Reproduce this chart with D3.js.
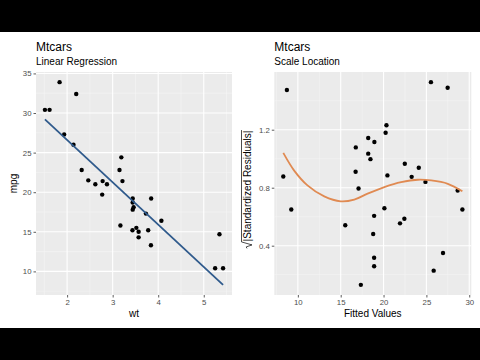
<!DOCTYPE html>
<html>
<head>
<meta charset="utf-8">
<script src="https://cdn.jsdelivr.net/npm/d3@7"></script>
<style>
  body { margin: 0; background: #000; }
  svg text { font-family: "Liberation Sans", Arial, sans-serif; }
</style>
</head>
<body>
<svg id="chart" width="480" height="360"></svg>
<script>
// mtcars: weight (1000 lbs) and miles per gallon
const wt = [2.620, 2.875, 2.320, 3.215, 3.440, 3.460, 3.570, 3.190, 3.150, 3.440, 3.440,
            4.070, 3.730, 3.780, 5.250, 5.424, 5.345, 2.200, 1.615, 1.835, 2.465, 3.520,
            3.435, 3.840, 3.845, 1.935, 2.140, 1.513, 3.170, 2.770, 3.570, 2.780];
const mpg = [21.0, 21.0, 22.8, 21.4, 18.7, 18.1, 14.3, 24.4, 22.8, 19.2, 17.8,
             16.4, 17.3, 15.2, 10.4, 10.4, 14.7, 32.4, 30.4, 33.9, 21.5, 15.5,
             15.2, 13.3, 19.2, 27.3, 26.0, 30.4, 15.8, 19.7, 15.0, 21.4];

// regression line endpoints (wt, fitted mpg)
const fitLineWt = [1.513, 5.424];
const fitLineMpg = [29.20, 8.30];

// scale-location: fitted values and sqrt(|standardized residuals|)
const fitted = [23.28, 21.92, 24.89, 20.10, 18.90, 18.79, 18.21, 20.24, 20.45, 18.90, 18.90,
                15.53, 17.35, 17.08, 9.23, 8.30, 8.72, 25.53, 28.65, 27.48, 24.11, 18.47,
                18.93, 16.76, 16.74, 26.94, 25.85, 29.20, 20.34, 22.48, 18.21, 22.43];
const sqrtStdRes = [0.875, 0.554, 0.840, 0.658, 0.258, 0.481, 1.143, 1.179, 0.885, 0.317, 0.606,
                    0.541, 0.130, 0.795, 0.650, 0.877, 1.474, 1.528, 0.781, 1.489, 0.938, 0.997,
                    1.115, 1.078, 0.910, 0.350, 0.228, 0.650, 1.231, 0.965, 1.035, 0.586];

// smoother
const smoothX = [8.30, 9.57, 11.12, 13.08, 15.0, 16.58, 18.14, 20.09, 22.05, 24.0, 25.56, 27.5, 29.2];
const smoothY = [1.04, 0.918, 0.816, 0.74, 0.706, 0.718, 0.759, 0.804, 0.838, 0.855, 0.85, 0.827, 0.775];

const svg = d3.select("#chart");
svg.append("rect").attr("width", 480).attr("height", 360).attr("fill", "#000");
svg.append("rect").attr("y", 32).attr("width", 480).attr("height", 296).attr("fill", "#fff");

function panel(opt) {
    const g = svg.append("g");
    const x = d3.scaleLinear().domain(opt.xDomain).range([opt.left, opt.right]);
    const y = d3.scaleLinear().domain(opt.yDomain).range([opt.bottom, opt.top]);

    g.append("rect")
        .attr("x", opt.left).attr("y", opt.top)
        .attr("width", opt.right - opt.left).attr("height", opt.bottom - opt.top)
        .attr("fill", "#EBEBEB");

    // minor grid
    g.selectAll(".xminor").data(opt.xMinor).enter().append("line")
        .attr("x1", d => x(d)).attr("x2", d => x(d))
        .attr("y1", opt.top).attr("y2", opt.bottom)
        .attr("stroke", "#F5F5F5").attr("stroke-width", 0.6);
    g.selectAll(".yminor").data(opt.yMinor).enter().append("line")
        .attr("y1", d => y(d)).attr("y2", d => y(d))
        .attr("x1", opt.left).attr("x2", opt.right)
        .attr("stroke", "#F5F5F5").attr("stroke-width", 0.6);
    // major grid
    g.selectAll(".xmajor").data(opt.xTicks).enter().append("line")
        .attr("x1", d => x(d)).attr("x2", d => x(d))
        .attr("y1", opt.top).attr("y2", opt.bottom)
        .attr("stroke", "#fff").attr("stroke-width", 1.1);
    g.selectAll(".ymajor").data(opt.yTicks).enter().append("line")
        .attr("y1", d => y(d)).attr("y2", d => y(d))
        .attr("x1", opt.left).attr("x2", opt.right)
        .attr("stroke", "#fff").attr("stroke-width", 1.1);

    // axes
    const xAxis = g.append("g")
        .attr("transform", "translate(0," + opt.bottom + ")")
        .call(d3.axisBottom(x).tickValues(opt.xTicks).tickFormat(opt.xFormat).tickSize(2.5).tickPadding(2));
    const yAxis = g.append("g")
        .attr("transform", "translate(" + opt.left + ",0)")
        .call(d3.axisLeft(y).tickValues(opt.yTicks).tickFormat(opt.yFormat).tickSize(2.5).tickPadding(2));
    [xAxis, yAxis].forEach(a => {
        a.select(".domain").remove();
        a.selectAll(".tick line").attr("stroke", "#333").attr("stroke-width", 0.8);
        a.selectAll(".tick text").attr("fill", "#4D4D4D").style("font-size", "7.8px")
            .style("font-family", "'Liberation Sans', Arial, sans-serif");
    });

    // titles
    g.append("text").attr("x", opt.left).attr("y", 50.5)
        .attr("fill", "#000").style("font-size", "12px").text(opt.title);
    g.append("text").attr("x", opt.left).attr("y", 64.5)
        .attr("fill", "#000").style("font-size", "10px").text(opt.subtitle);
    g.append("text").attr("x", (opt.left + opt.right) / 2).attr("y", 316.5)
        .attr("text-anchor", "middle").attr("fill", "#000").style("font-size", "10px")
        .text(opt.xLabel);

    return {g, x, y};
}

// ---- left: linear regression ----
const p1 = panel({
    left: 36, right: 232, top: 72, bottom: 295,
    xDomain: [1.317, 5.620], yDomain: [7.02, 35.18],
    xTicks: [2, 3, 4, 5], yTicks: [10, 15, 20, 25, 30, 35],
    xMinor: [1.5, 2.5, 3.5, 4.5, 5.5], yMinor: [7.5, 12.5, 17.5, 22.5, 27.5, 32.5],
    xFormat: d3.format("d"), yFormat: d3.format("d"),
    title: "Mtcars", subtitle: "Linear Regression", xLabel: "wt"
});
p1.g.append("text")
    .attr("transform", "translate(17," + (72 + 295) / 2 + ") rotate(-90)")
    .attr("text-anchor", "middle").attr("fill", "#000").style("font-size", "10px")
    .text("mpg");
p1.g.selectAll(".pt").data(d3.range(wt.length)).enter().append("circle")
    .attr("cx", i => p1.x(wt[i])).attr("cy", i => p1.y(mpg[i]))
    .attr("r", 2.2).attr("fill", "#000");
p1.g.append("path")
    .datum(d3.range(fitLineWt.length))
    .attr("d", d3.line().x(i => p1.x(fitLineWt[i])).y(i => p1.y(fitLineMpg[i])))
    .attr("fill", "none").attr("stroke", "#2F5A8C").attr("stroke-width", 1.8);

// ---- right: scale location ----
const p2 = panel({
    left: 274.3, right: 471.3, top: 72, bottom: 295,
    xDomain: [7.25, 30.24], yDomain: [0.060, 1.598],
    xTicks: [10, 15, 20, 25, 30], yTicks: [0.4, 0.8, 1.2],
    xMinor: [7.5, 12.5, 17.5, 22.5, 27.5], yMinor: [0.2, 0.6, 1.0, 1.4],
    xFormat: d3.format("d"), yFormat: d3.format(".1f"),
    title: "Mtcars", subtitle: "Scale Location", xLabel: "Fitted Values"
});

// y label with radical sign: drawn in a rotated frame
const yl = p2.g.append("g")
    .attr("transform", "translate(250.5,190) rotate(-90)");
const ylText = yl.append("text")
    .attr("x", 4).attr("text-anchor", "middle").attr("fill", "#000").style("font-size", "10px")
    .text("|Standardized Residuals|");
const tw = ylText.node().getComputedTextLength();
const x0 = 4 - tw / 2, x1 = 4 + tw / 2;
yl.append("path")
    .attr("d", "M" + (x0 - 7) + ",-3.5 L" + (x0 - 5.5) + ",-4.3 L" + (x0 - 3.5) + ",1.5 L" + (x0 - 0.5) + ",-9 L" + (x1 + 0.5) + ",-9")
    .attr("fill", "none").attr("stroke", "#000").attr("stroke-width", 0.7);

p2.g.selectAll(".pt").data(d3.range(fitted.length)).enter().append("circle")
    .attr("cx", i => p2.x(fitted[i])).attr("cy", i => p2.y(sqrtStdRes[i]))
    .attr("r", 2.2).attr("fill", "#000");
p2.g.append("path")
    .datum(d3.range(smoothX.length))
    .attr("d", d3.line().curve(d3.curveCatmullRom)
        .x(i => p2.x(smoothX[i])).y(i => p2.y(smoothY[i])))
    .attr("fill", "none").attr("stroke", "#E08A52").attr("stroke-width", 1.8);
</script>
</body>
</html>
